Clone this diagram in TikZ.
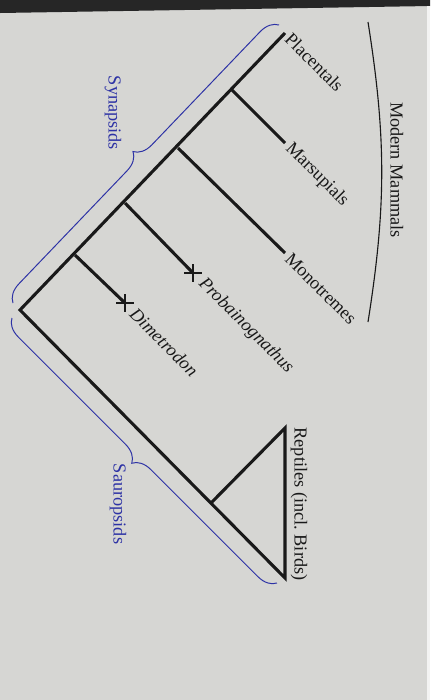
\documentclass[tikz,border=0pt]{standalone}
\usepackage{fontspec}
\setmainfont{Liberation Serif}
\usetikzlibrary{decorations.pathreplacing,shapes.misc}
\definecolor{paper}{RGB}{214,214,211}
\definecolor{ink}{RGB}{25,25,25}
\definecolor{braceblue}{RGB}{45,50,165}
\newcommand{\cladefont}{\fontsize{13}{15}\selectfont}

\begin{document}
\begin{tikzpicture}[x=0.025cm,y=-0.025cm,
	tree/.style={draw=ink,line width=2.2pt,line join=miter},
	taxon/.style={coordinate},
	tiplabel/.style={rotate=-45,anchor=west,inner sep=3pt,text=ink,font=\cladefont},
	extinct/.style={draw=ink,cross out,rotate=45,line width=1.5pt,inner sep=0pt,minimum size=.26cm},
	grouplabel/.style={rotate=-90,text=ink,font=\cladefont},
	clade/.style={draw=braceblue,line width=.7pt,decorate,decoration={brace,amplitude=.45cm}}]

	% photographed page
	\useasboundingbox (0,0) rectangle (430,700);
	\fill[paper] (0,0) rectangle (430,700);
	\fill[black!85] (0,0) -- (430,0) -- (430,6) -- (0,13) -- cycle;
	\fill[white!70!paper] (427,6) rectangle (430,700);

	\coordinate (root) at (20,310);
	\coordinate (nMar) at (232,90);
	\coordinate (nMon) at (178,148);
	\coordinate (nPro) at (125,203);
	\coordinate (nDim) at (75,255);
	\coordinate (nRep) at (212,502);

	\node[taxon,label={[tiplabel]-45:Placentals}] (pla) at (285,33) {};
	\node[taxon,label={[tiplabel]-45:Marsupials}] (mar) at (285,143) {};
	\node[taxon,label={[tiplabel]-45:Monotremes}] (mon) at (285,253) {};
	\node[taxon,label={[tiplabel,inner xsep=8pt]-45:\textit{Probainognathus}}] (pro) at (193,273) {};
	\node[taxon,label={[tiplabel,inner xsep=8pt]-45:\textit{Dimetrodon}}] (dim) at (125,303) {};
	\node[taxon] (rep) at (285,428) {};
	\node[taxon] (sau) at (285,578) {};

	\draw[tree] (pla) -- (root) -- (sau) -- (rep) -- (nRep);
	\draw[tree] (nMar) -- (mar);
	\draw[tree] (nMon) -- (mon);
	\draw[tree] (nPro) -- (pro);
	\draw[tree] (nDim) -- (dim);
	\node[extinct] (proX) at (pro) {};
	\node[extinct] (dimX) at (dim) {};

	\node[grouplabel] (mmT) at (397,170) {Modern Mammals};
	\coordinate (mmA) at (368,22);
	\coordinate (mmB) at (368,322);
	\draw[ink,line width=.8pt] (mmA) to[bend left=9] (mmB);
	\node[grouplabel] (repT) at (299,504) {Reptiles (incl.\ Birds)};

	%\draw[help lines] (0,0) grid[step=50] (430,700);
	\coordinate (synA) at (13,303);
	\coordinate (synB) at (279,25);
	\draw[clade] (synA) -- (synB);
	\node[grouplabel,text=braceblue] (synT) at (113,113) {Synapsids};
	\coordinate (sauA) at (277,583);
	\coordinate (sauB) at (12,318);
	\draw[clade] (sauA) -- (sauB);
	\node[grouplabel,text=braceblue] (sauT) at (118,504) {Sauropsids};
\end{tikzpicture}
\end{document}
